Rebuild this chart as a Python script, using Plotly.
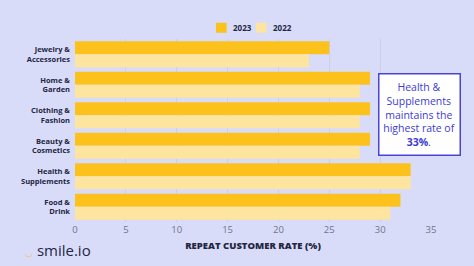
import plotly.graph_objects as go

categories = ["Jewelry &<br>Accessories", "Home &<br>Garden", "Clothing &<br>Fashion",
              "Beauty &<br>Cosmetics", "Health &<br>Supplements", "Food &<br>Drink"]
values_2023 = [25, 29, 29, 29, 33, 32]
values_2022 = [23, 28, 28, 28, 33, 31]
series_names = ["2023", "2022"]
x_ticks = [0, 5, 10, 15, 20, 25, 30, 35]

BG = "#d9dcf9"
GOLD = "#fcc21b"
LIGHT = "#fde49f"
NAVY = "#23263f"
BLUE = "#3d3bd2"
colors = [GOLD, LIGHT]

fig = go.Figure()
for name, vals, col in zip(series_names, [values_2023, values_2022], colors):
    fig.add_trace(go.Bar(y=categories, x=vals, name=name, orientation="h",
                         marker=dict(color=col, line=dict(width=0))))

fig.update_layout(
    width=474, height=266,
    margin=dict(l=75, r=43, t=39, b=44),
    paper_bgcolor=BG, plot_bgcolor=BG,
    barmode="group", bargap=0.15, bargroupgap=0,
    font=dict(family="Open Sans", color=NAVY),
    showlegend=False,
    xaxis=dict(range=[0, 35], tickvals=x_ticks, showgrid=True, gridcolor="#cbcef0",
               gridwidth=1, zeroline=False, showline=False,
               tickfont=dict(size=9.5, color="#70748a"), ticks="",
               title=dict(text="REPEAT CUSTOMER RATE (%)", standoff=7,
                          font=dict(size=9.5, color=NAVY, family="Open Sans", weight=800))),
    yaxis=dict(autorange="reversed", showgrid=False, zeroline=False, showline=False,
               ticks="", ticklabelstandoff=4,
               tickfont=dict(size=7.5, color=NAVY, family="Open Sans", weight=700)),
)

# custom compact legend
legend_x0 = [0.396, 0.508]
for name, col, x0 in zip(series_names, colors, legend_x0):
    fig.add_shape(type="rect", xref="paper", yref="paper", x0=x0, x1=x0 + 0.030,
                  y0=1.034, y1=1.089, fillcolor=col, line=dict(width=0))
    fig.add_annotation(xref="paper", yref="paper", x=x0 + 0.043, y=1.062,
                       xanchor="left", yanchor="middle", text=f"<b>{name}</b>",
                       showarrow=False, font=dict(size=8, color=NAVY, family="Open Sans"))

fig.add_annotation(
    xref="paper", yref="paper", x=0.969, y=0.588, xanchor="center", yanchor="middle",
    text="Health &<br>Supplements<br>maintains the<br>highest rate of<br><b>33%</b>.",
    showarrow=False, align="center", width=78, height=78,
    font=dict(size=10.5, color=BLUE, family="Open Sans"),
    bgcolor="white", bordercolor="#4a44d6", borderwidth=1.5, borderpad=1,
)

fig.add_annotation(
    xref="paper", yref="paper", x=-0.145, y=-0.155, xanchor="left", yanchor="middle",
    text="<span style='color:#f2c14e;font-size:9px'>◡</span> smile.io",
    showarrow=False, font=dict(size=15, color=NAVY, family="Open Sans"),
)

fig.write_html("out.html")
